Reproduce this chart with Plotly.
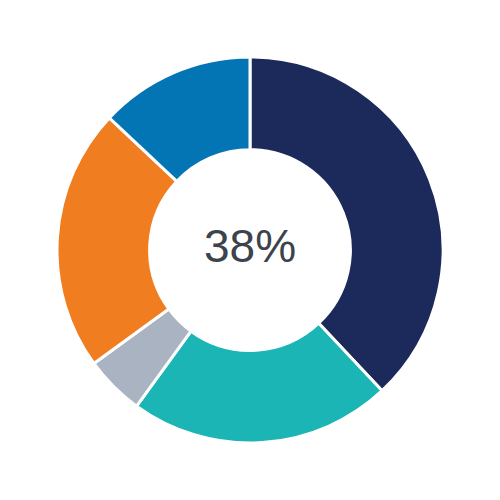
import plotly.graph_objects as go

labels = ["Navy", "Teal", "Gray", "Orange", "Blue"]
values = [38, 22, 5, 22, 13]
colors = ["#1b2a5a", "#1bb5b5", "#a9b3c1", "#f07e21", "#0475b4"]
center_text = "38%"

fig = go.Figure(go.Pie(
    labels=labels,
    values=values,
    hole=0.52,
    sort=False,
    direction="clockwise",
    rotation=0,
    marker=dict(colors=colors, line=dict(color="white", width=3)),
    textinfo="none",
    hoverinfo="label+percent",
    showlegend=False,
))
fig.add_annotation(
    text=center_text, x=0.5, y=0.5, xref="paper", yref="paper",
    showarrow=False, yshift=4,
    font=dict(family="Liberation Sans, Arial, sans-serif", size=46, color="#3d434c"),
)
fig.update_layout(
    width=500, height=500,
    margin=dict(l=49, r=65, t=49, b=65),
    paper_bgcolor="white", plot_bgcolor="white",
)
fig.write_html("out.html")
